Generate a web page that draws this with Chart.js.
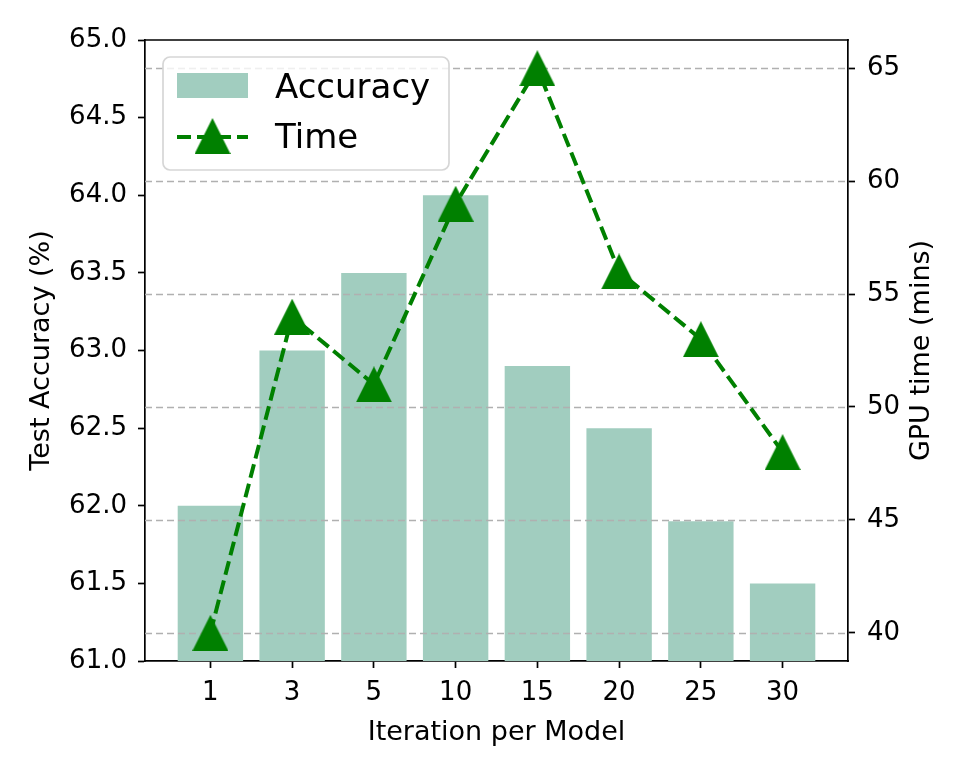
<!DOCTYPE html>
<html>
<head>
<meta charset="utf-8">
<script src="https://cdn.jsdelivr.net/npm/chart.js@4.4.1/dist/chart.umd.min.js"></script>
<style>
  html, body { margin: 0; padding: 0; background: #ffffff; }
</style>
</head>
<body>
<canvas id="chart" width="969" height="775"></canvas>
<script>
// data
const iterations = ['1', '3', '5', '10', '15', '20', '25', '30'];
const accuracy = [62.0, 63.0, 63.5, 64.0, 62.9, 62.5, 61.9, 61.5];
const gpuTime = [40, 54, 51, 59, 65, 56, 53, 48];
const accuracyTicks = [61.0, 61.5, 62.0, 62.5, 63.0, 63.5, 64.0, 64.5, 65.0];
const timeTicks = [40, 45, 50, 55, 60, 65];

const FONT = 'DejaVu Sans';
const barColor = '#a1cdbf';
const lineColor = '#008000';

// matplotlib style "^" marker: as wide as it is tall, centred on the point
function makeTriangle(size) {
  const c = document.createElement('canvas');
  c.width = size;
  c.height = size;
  const g = c.getContext('2d');
  g.fillStyle = lineColor;
  g.beginPath();
  g.moveTo(size / 2, 0);
  g.lineTo(size, size);
  g.lineTo(0, size);
  g.closePath();
  g.fill();
  return c;
}
const triangle = makeTriangle(36);

// dashed grid of the right axis, drawn over the bars but under the line
const timeGrid = {
  id: 'timeGrid',
  beforeDatasetDraw(chart, args) {
    if (args.index !== 1) return;
    const ctx = chart.ctx;
    const a = chart.chartArea;
    const y1 = chart.scales.y1;
    ctx.save();
    ctx.strokeStyle = '#b0b0b0';
    ctx.lineWidth = 1.7;
    ctx.setLineDash([7, 4]);
    timeTicks.forEach(v => {
      const y = Math.round(y1.getPixelForValue(v)) + 0.5;
      ctx.beginPath();
      ctx.moveTo(a.left, y);
      ctx.lineTo(a.right, y);
      ctx.stroke();
    });
    ctx.restore();
  }
};

// top spine, right axis title (reads bottom to top) and the legend box
const extras = {
  id: 'extras',
  afterDraw(chart) {
    const ctx = chart.ctx;
    const a = chart.chartArea;
    ctx.save();

    ctx.strokeStyle = '#000';
    ctx.lineWidth = 1.7;
    ctx.beginPath();
    ctx.moveTo(a.left - 0.85, a.top);
    ctx.lineTo(a.right + 0.85, a.top);
    ctx.stroke();

    ctx.fillStyle = '#000';
    ctx.font = '27px "' + FONT + '"';
    ctx.textAlign = 'center';
    ctx.textBaseline = 'middle';
    ctx.translate(921.5, (a.top + a.bottom) / 2);
    ctx.rotate(-Math.PI / 2);
    ctx.fillText('GPU time (mins)', 0, 0);
    ctx.setTransform(1, 0, 0, 1, 0, 0);

    const x = a.left + 18, y = a.top + 17, w = 286, h = 113;
    ctx.beginPath();
    ctx.roundRect(x, y, w, h, 7);
    ctx.fillStyle = 'rgba(255,255,255,0.8)';
    ctx.fill();
    ctx.strokeStyle = '#d6d6d6';
    ctx.lineWidth = 1.7;
    ctx.stroke();

    ctx.fillStyle = barColor;
    ctx.fillRect(x + 14, y + 16, 71, 25);

    ctx.strokeStyle = lineColor;
    ctx.lineWidth = 4;
    ctx.setLineDash([14, 6]);
    ctx.beginPath();
    ctx.moveTo(x + 14, y + 80);
    ctx.lineTo(x + 85, y + 80);
    ctx.stroke();
    ctx.setLineDash([]);
    ctx.drawImage(triangle, x + 49.5 - 18, y + 79 - 18);

    ctx.fillStyle = '#000';
    ctx.font = '34px "' + FONT + '"';
    ctx.textAlign = 'left';
    ctx.textBaseline = 'alphabetic';
    ctx.fillText('Accuracy', x + 112, y + 41);
    ctx.fillText('Time', x + 112, y + 91);
    ctx.restore();
  }
};

const tickFont = { family: FONT, size: 26 };
const titleFont = { family: FONT, size: 27 };

new Chart(document.getElementById('chart'), {
  type: 'bar',
  data: {
    datasets: [
      {
        type: 'bar',
        label: 'Accuracy',
        data: accuracy.map((v, i) => ({ x: i, y: v })),
        backgroundColor: barColor,
        borderWidth: 0,
        barPercentage: 0.8,
        categoryPercentage: 1.0,
        yAxisID: 'y',
        order: 1
      },
      {
        type: 'line',
        label: 'Time',
        data: gpuTime.map((v, i) => ({ x: i, y: v })),
        borderColor: lineColor,
        borderWidth: 4,
        borderDash: [14, 6],
        pointStyle: triangle,
        pointRadius: 18,
        fill: false,
        tension: 0,
        yAxisID: 'y1',
        order: 0
      }
    ]
  },
  options: {
    responsive: false,
    animation: false,
    devicePixelRatio: 1,
    layout: { padding: { top: 40, left: 0, right: 0, bottom: 0 } },
    plugins: {
      legend: { display: false },
      tooltip: { enabled: false }
    },
    scales: {
      x: {
        type: 'linear',
        min: -0.8,
        max: 7.8,
        offset: false,
        afterBuildTicks: s => { s.ticks = iterations.map((_, i) => ({ value: i })); },
        afterFit: s => { s.height = 114; },
        ticks: {
          font: tickFont,
          color: '#000',
          padding: 10,
          maxRotation: 0,
          autoSkip: false,
          callback: v => iterations[v]
        },
        grid: {
          display: true,
          drawOnChartArea: false,
          offset: false,
          tickLength: 7,
          tickWidth: 1.7,
          tickColor: '#000'
        },
        border: { display: true, color: '#000', width: 1.7 },
        title: {
          display: true,
          text: 'Iteration per Model',
          color: '#000',
          font: titleFont,
          padding: { top: 0, bottom: 26 }
        }
      },
      y: {
        position: 'left',
        min: 61,
        max: 65,
        afterBuildTicks: s => { s.ticks = accuracyTicks.map(v => ({ value: v })); },
        afterFit: s => { s.width = 145; },
        ticks: {
          font: tickFont,
          color: '#000',
          padding: 11,
          callback: v => Number(v).toFixed(1)
        },
        grid: {
          display: true,
          drawOnChartArea: false,
          tickLength: 7,
          tickWidth: 1.7,
          tickColor: '#000'
        },
        border: { display: true, color: '#000', width: 1.7 },
        title: {
          display: true,
          text: 'Test Accuracy (%)',
          color: '#000',
          font: titleFont,
          padding: { top: 26, bottom: 0 }
        }
      },
      y1: {
        position: 'right',
        min: 38.75,
        max: 66.25,
        afterBuildTicks: s => { s.ticks = timeTicks.map(v => ({ value: v })); },
        afterFit: s => { s.width = 121; },
        ticks: {
          font: tickFont,
          color: '#000',
          padding: 12,
          callback: v => String(v)
        },
        grid: {
          display: true,
          drawOnChartArea: false,
          tickLength: 7,
          tickWidth: 1.7,
          tickColor: '#000'
        },
        border: { display: true, color: '#000', width: 1.7 }
      }
    }
  },
  plugins: [timeGrid, extras]
});
</script>
</body>
</html>
